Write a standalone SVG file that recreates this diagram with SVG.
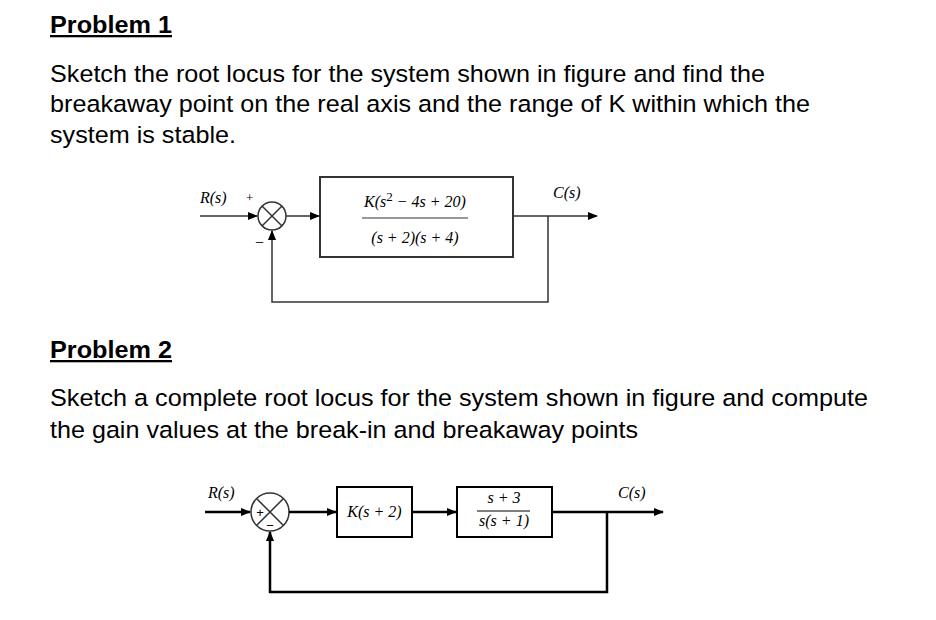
<svg xmlns="http://www.w3.org/2000/svg" width="936" height="620" viewBox="0 0 936 620">
<style>
.h{font-family:"Liberation Sans",sans-serif;font-weight:bold;font-size:23px;text-decoration:underline}
.b{font-family:"Liberation Sans",Arial,sans-serif;font-size:24.5px}
.m{font-family:"Liberation Serif",serif;font-size:16px;font-style:italic}
.m2{font-family:"Liberation Serif",serif;font-size:13px}
.l1{stroke:#333;stroke-width:1.5;fill:none}
.l2{stroke:#000;stroke-width:2.5;fill:none}
</style>
<defs>
<marker id="a" markerWidth="10" markerHeight="8" refX="9" refY="4" orient="auto" markerUnits="userSpaceOnUse"><path d="M0,0L10,4L0,8z" fill="#000"/></marker>
</defs>
<rect width="936" height="620" fill="#fff"/>
<text class="h" x="50" y="33" textLength="122" lengthAdjust="spacingAndGlyphs">Problem 1</text>
<text class="b" x="50" y="82" textLength="715" lengthAdjust="spacingAndGlyphs">Sketch the root locus for the system shown in figure and find the</text>
<text class="b" x="50" y="112" textLength="760" lengthAdjust="spacingAndGlyphs">breakaway point on the real axis and the range of K within which the</text>
<text class="b" x="50" y="143" textLength="186" lengthAdjust="spacingAndGlyphs">system is stable.</text>
<text class="h" x="50" y="358" textLength="122" lengthAdjust="spacingAndGlyphs">Problem 2</text>
<text class="b" x="50" y="406" textLength="818" lengthAdjust="spacingAndGlyphs">Sketch a complete root locus for the system shown in figure and compute</text>
<text class="b" x="50" y="438" textLength="588" lengthAdjust="spacingAndGlyphs">the gain values at the break-in and breakaway points</text>

<g id="sum1"><circle cx="272" cy="216" r="14" class="l1"/><path d="M262,206L282,226M282,206L262,226" class="l1"/></g>
<g id="G1"><rect x="320" y="177" width="193" height="80" fill="none" stroke="#333" stroke-width="2"/>
<text class="m" x="415" y="207" text-anchor="middle">K(s<tspan class="m2" dy="-6" style="font-style:normal">2</tspan><tspan dy="6"> − 4s + 20)</tspan></text>
<line x1="362" y1="218" x2="468" y2="218" stroke="#333" stroke-width="1.2"/>
<text class="m" x="415" y="243" text-anchor="middle">(s + 2)(s + 4)</text></g>
<g id="labels1" class="m">
<text x="200" y="203">R(s)</text><text x="246" y="202" style="font-style:normal" font-size="13">+</text>
<text x="255" y="248" style="font-style:normal">−</text><text x="553" y="198">C(s)</text></g>
<g id="conn1">
<line x1="200" y1="216" x2="257" y2="216" class="l1" marker-end="url(#a)"/>
<line x1="286" y1="216" x2="319" y2="216" class="l1" marker-end="url(#a)"/>
<line x1="513" y1="216" x2="597" y2="216" class="l1" marker-end="url(#a)"/>
<polyline points="548,216 548,302 272,302 272,231" class="l1" marker-end="url(#a)"/>
</g>

<g id="sum2"><circle cx="270" cy="512" r="19" class="l1" stroke-width="1.8"/><path d="M256.5,498.5L283.5,525.5M283.5,498.5L256.5,525.5" class="l1" stroke-width="1.8"/>
<text x="260" y="517" font-family="Liberation Sans,sans-serif" font-size="13" text-anchor="middle">+</text>
<text x="270" y="530" font-family="Liberation Sans,sans-serif" font-size="13" text-anchor="middle">−</text></g>
<g id="G2a"><rect x="337" y="487" width="75" height="50" fill="none" stroke="#000" stroke-width="2"/>
<text class="m" x="374.5" y="517" text-anchor="middle" font-size="13">K(s + 2)</text></g>
<g id="G2b"><rect x="457" y="487" width="95" height="50" fill="none" stroke="#000" stroke-width="2"/>
<text class="m" x="504" y="503" text-anchor="middle" font-size="13">s + 3</text>
<line x1="477" y1="511" x2="530" y2="511" stroke="#000" stroke-width="1"/>
<text class="m" x="504" y="526" text-anchor="middle" font-size="13">s(s + 1)</text></g>
<g id="labels2" class="m" font-size="13"><text x="208" y="498">R(s)</text><text x="618" y="498">C(s)</text></g>
<g id="conn2">
<line x1="205" y1="512" x2="250" y2="512" class="l2" marker-end="url(#a)"/>
<line x1="289" y1="512" x2="336" y2="512" class="l2" marker-end="url(#a)"/>
<line x1="412" y1="512" x2="456" y2="512" class="l2" marker-end="url(#a)"/>
<line x1="552" y1="512" x2="663" y2="512" class="l2" marker-end="url(#a)"/>
<polyline points="607,512 607,592 270,592 270,532" class="l2" marker-end="url(#a)"/>
</g>
</svg>
